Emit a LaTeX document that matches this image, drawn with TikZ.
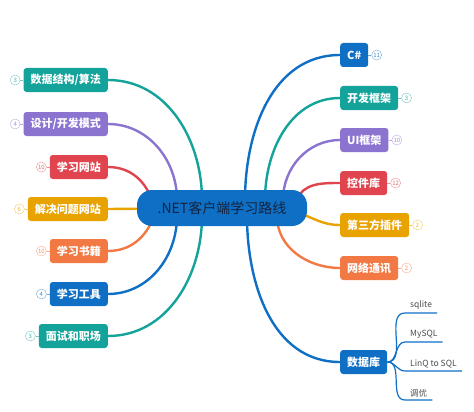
\documentclass[tikz,border=0pt]{standalone}
\usepackage{fontspec}
\setmainfont{Noto Sans CJK SC}
\usetikzlibrary{positioning,calc,backgrounds}
\definecolor{cteal}{HTML}{14A39A}
\definecolor{cpurple}{HTML}{8B74D0}
\definecolor{cred}{HTML}{E0444E}
\definecolor{camber}{HTML}{E9A300}
\definecolor{corange}{HTML}{F27944}
\definecolor{cblue}{HTML}{0E6FC5}
\definecolor{cnavy}{HTML}{14233F}

\tikzset{
  topic/.style={rounded corners=3pt, fill=#1, text=white,
    font=\bfseries\fontsize{11}{13}\selectfont, minimum height=24pt, inner xsep=7pt},
  badge/.style={circle, draw=#1!60, text=#1!80, fill=white, inner sep=0pt,
    minimum size=10pt, font=\fontsize{6}{7}\selectfont},
  tick/.style={draw=#1!60, line width=0.6pt},
  branch/.style={draw=#1, line width=2.4pt},
  leaf/.style={anchor=south west, inner xsep=5pt, inner ysep=3pt,
    font=\fontsize{8.5}{10}\selectfont, text=black!70},
}

\begin{document}
\begin{tikzpicture}[x=1pt,y=-1pt]
\useasboundingbox (0,0) rectangle (474,412);

% centre
\node[rounded corners=15pt, fill=cblue, minimum width=170pt, minimum height=36pt,
  text=cnavy, font=\fontsize{14}{16}\selectfont] (net) at (222,208) {.NET客户端学习路线};

% left side
\node[topic=cteal, anchor=east] (algo) at (108,80) {数据结构/算法};
\node[topic=cpurple, anchor=east] (design) at (108,124) {设计/开发模式};
\node[topic=cred, anchor=east] (site) at (108,167) {学习网站};
\node[topic=camber, anchor=east] (solve) at (108,209) {解决问题网站};
\node[topic=corange, anchor=east] (book) at (108,251) {学习书籍};
\node[topic=cblue, anchor=east] (tool) at (108,294) {学习工具};
\node[topic=cteal, anchor=east] (job) at (108,336) {面试和职场};

% right side
\node[topic=cblue, anchor=west] (cs) at (340,55) {C\#};
\node[topic=cteal, anchor=west] (frame) at (340,98) {开发框架};
\node[topic=cpurple, anchor=west] (ui) at (340,140) {UI框架};
\node[topic=cred, anchor=west] (ctrl) at (340,183) {控件库};
\node[topic=camber, anchor=west] (plug) at (340,225) {第三方插件};
\node[topic=corange, anchor=west] (comm) at (340,268) {网络通讯};
\node[topic=cblue, anchor=west] (db) at (340,362) {数据库};

% badges
\foreach \n/\c/\v in {algo/cteal/3, design/cpurple/4, site/cred/10, solve/camber/6,
    book/corange/10, tool/cblue/4, job/cteal/3} {
  \node[badge=\c, left=3pt of \n] (\n-b) {\v};
  \draw[tick=\c] (\n-b) -- (\n);
}
\foreach \n/\c/\v in {cs/cblue/11, frame/cteal/3, ui/cpurple/10, ctrl/cred/12,
    plug/camber/2, comm/corange/2} {
  \node[badge=\c, right=3pt of \n] (\n-b) {\v};
  \draw[tick=\c] (\n-b) -- (\n);
}

% database leaves
\node[leaf] (sqlite) at (405,313) {sqlite};
\node[leaf] (mysql) at (405,342) {MySQL};
\node[leaf] (linq) at (405,371) {LinQ to SQL};
\node[leaf] (tune) at (405,400) {调优};
\foreach \l in {sqlite,mysql,linq,tune}
  \draw[cblue, line width=1.2pt] (db.east) to[out=0,in=180] (\l.south west) -- (\l.south east);

% branches
\begin{scope}[on background layer]
\fill[white] (0,0) rectangle (474,412);
\draw[branch=cteal] ($(net.center)+(-20,-8)$) to[out=90,in=0] (algo.east);
\draw[branch=cpurple] ($(net.center)+(-45,-8)$) to[out=90,in=0] (design.east);
\draw[branch=cred] ($(net.center)+(-70,-8)$) to[out=110,in=0] (site.east);
\draw[branch=camber] (net.center) -- (solve.east);
\draw[branch=corange] ($(net.center)+(-68,8)$) to[out=-110,in=0] (book.east);
\draw[branch=cblue] ($(net.center)+(-45,8)$) to[out=-90,in=0] (tool.east);
\draw[branch=cteal] ($(net.center)+(-20,8)$) to[out=-90,in=0] (job.east);
\draw[branch=cblue] ($(net.center)+(23,-8)$) to[out=90,in=180] (cs.west);
\draw[branch=cteal] ($(net.center)+(43,-8)$) to[out=90,in=180] (frame.west);
\draw[branch=cpurple] ($(net.center)+(61,-8)$) to[out=90,in=180] (ui.west);
\draw[branch=cred] ($(net.center)+(75,-8)$) to[out=70,in=180] (ctrl.west);
\draw[branch=camber] ($(net.center)+(75,4)$) to[out=-20,in=180] (plug.west);
\draw[branch=corange] ($(net.center)+(55,8)$) to[out=-90,in=180] (comm.west);
\draw[branch=cblue] ($(net.center)+(25,8)$) to[out=-90,in=180] (db.west);
\end{scope}
\end{tikzpicture}
\end{document}
